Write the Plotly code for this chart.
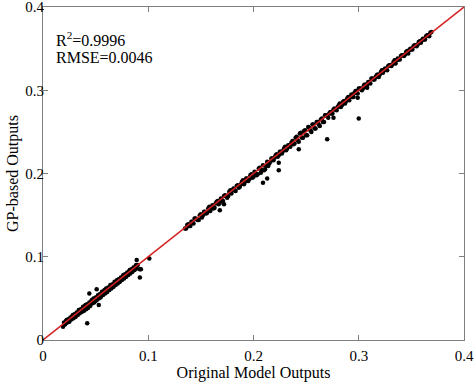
import plotly.graph_objects as go

# Cluster 1 (low outputs)
x_low = [0.019, 0.020, 0.021, 0.022, 0.023, 0.024, 0.025, 0.026, 0.027, 0.028,
         0.029, 0.030, 0.031, 0.032, 0.033, 0.034, 0.035, 0.036, 0.037, 0.038,
         0.039, 0.040, 0.041, 0.042, 0.042, 0.043, 0.044, 0.044, 0.045, 0.046,
         0.047, 0.048, 0.049, 0.050, 0.051, 0.051, 0.052, 0.053, 0.053, 0.054,
         0.055, 0.056, 0.057, 0.058, 0.059, 0.060, 0.061, 0.062, 0.063, 0.064,
         0.065, 0.066, 0.067, 0.068, 0.069, 0.070, 0.071, 0.072, 0.073, 0.074,
         0.075, 0.076, 0.077, 0.078, 0.079, 0.080, 0.081, 0.082, 0.083, 0.084,
         0.085, 0.086, 0.087, 0.088, 0.089, 0.089, 0.090, 0.092, 0.092, 0.093,
         0.101,
         0.0205, 0.0225, 0.0245, 0.0265, 0.0285, 0.0305, 0.0325, 0.0345, 0.0365, 0.0385,
         0.0405, 0.0425, 0.0445, 0.0465, 0.0485, 0.0505, 0.0525, 0.0545, 0.0565, 0.0585,
         0.0605, 0.0625, 0.0645, 0.0665, 0.0685, 0.0705, 0.0725, 0.0745, 0.0765, 0.0785,
         0.0805, 0.0825, 0.0845, 0.0865, 0.0885]
y_low = [0.016, 0.021, 0.019, 0.023, 0.021, 0.025, 0.022, 0.027, 0.025, 0.029,
         0.026, 0.031, 0.028, 0.033, 0.030, 0.036, 0.032, 0.037, 0.034, 0.040,
         0.035, 0.041, 0.037, 0.020, 0.043, 0.039, 0.056, 0.045, 0.041, 0.047,
         0.044, 0.050, 0.046, 0.051, 0.061, 0.048, 0.053, 0.042, 0.050, 0.055,
         0.052, 0.058, 0.054, 0.059, 0.056, 0.062, 0.058, 0.063, 0.060, 0.066,
         0.062, 0.067, 0.064, 0.070, 0.066, 0.071, 0.068, 0.073, 0.070, 0.075,
         0.072, 0.077, 0.074, 0.079, 0.076, 0.081, 0.078, 0.083, 0.080, 0.085,
         0.082, 0.087, 0.084, 0.089, 0.096, 0.086, 0.090, 0.085, 0.075, 0.085,
         0.098,
         0.0185, 0.0240, 0.0230, 0.0245, 0.0300, 0.0280, 0.0310, 0.0355, 0.0340, 0.0360,
         0.0420, 0.0385, 0.0410, 0.0480, 0.0450, 0.0475, 0.0540, 0.0510, 0.0540, 0.0600,
         0.0575, 0.0600, 0.0655, 0.0640, 0.0665, 0.0720, 0.0700, 0.0725, 0.0780, 0.0760,
         0.0785, 0.0840, 0.0820, 0.0845, 0.0900]

# Cluster 2 (high outputs)
x_high = [0.135, 0.137, 0.139, 0.141, 0.143, 0.145, 0.147, 0.149, 0.151, 0.153,
          0.155, 0.157, 0.159, 0.161, 0.163, 0.165, 0.167, 0.169, 0.171, 0.173,
          0.175, 0.177, 0.179, 0.181, 0.183, 0.185, 0.187, 0.189, 0.191, 0.193,
          0.195, 0.197, 0.199, 0.201, 0.203, 0.205, 0.207, 0.209, 0.211, 0.213,
          0.215, 0.217, 0.219, 0.221, 0.223, 0.225, 0.227, 0.229, 0.231, 0.233,
          0.235, 0.237, 0.239, 0.241, 0.243, 0.245, 0.247, 0.249, 0.251, 0.253,
          0.255, 0.257, 0.259, 0.261, 0.263, 0.265, 0.267, 0.269, 0.271, 0.273,
          0.275, 0.277, 0.279, 0.281, 0.283, 0.285, 0.287, 0.289, 0.291, 0.293,
          0.295, 0.297, 0.299, 0.301, 0.303, 0.305, 0.307, 0.309, 0.311, 0.313,
          0.315, 0.317, 0.319, 0.321, 0.323, 0.325, 0.327, 0.329, 0.331, 0.333,
          0.335, 0.337, 0.339, 0.341, 0.343, 0.345, 0.347, 0.349, 0.351, 0.353,
          0.355, 0.357, 0.359, 0.361, 0.363, 0.365, 0.367, 0.369,
          0.168, 0.172, 0.209, 0.213, 0.224, 0.224, 0.243, 0.270, 0.276, 0.300,
          0.299, 0.308,
          0.136, 0.138, 0.140, 0.142, 0.144, 0.146, 0.148, 0.150, 0.152, 0.154,
          0.156, 0.158, 0.160, 0.162, 0.164, 0.166, 0.168, 0.170, 0.172, 0.174,
          0.176, 0.178, 0.180, 0.182, 0.184, 0.186, 0.188, 0.190, 0.192, 0.194,
          0.196, 0.198, 0.200, 0.202, 0.204, 0.206, 0.208, 0.210, 0.212, 0.214,
          0.216, 0.218, 0.220, 0.222, 0.224, 0.226, 0.228, 0.230, 0.232, 0.234,
          0.236, 0.238, 0.240, 0.242, 0.244, 0.246, 0.248, 0.250, 0.252, 0.254,
          0.256, 0.258, 0.260, 0.262, 0.264, 0.266, 0.268, 0.270, 0.272, 0.274,
          0.276, 0.278, 0.280, 0.282, 0.284, 0.286, 0.288, 0.290, 0.292, 0.294,
          0.296, 0.298, 0.300, 0.302, 0.304, 0.306, 0.308, 0.310, 0.312, 0.314,
          0.316, 0.318, 0.320, 0.322, 0.324, 0.326, 0.328, 0.330, 0.332, 0.334,
          0.336, 0.338, 0.340, 0.342, 0.344, 0.346, 0.348, 0.350, 0.352, 0.354,
          0.356, 0.358, 0.360, 0.362, 0.364, 0.366, 0.368]
y_high = [0.134, 0.138, 0.137, 0.142, 0.140, 0.146, 0.144, 0.150, 0.147, 0.154,
          0.152, 0.158, 0.155, 0.162, 0.159, 0.166, 0.163, 0.170, 0.167, 0.174,
          0.171, 0.178, 0.176, 0.182, 0.179, 0.186, 0.184, 0.190, 0.187, 0.194,
          0.191, 0.198, 0.195, 0.202, 0.198, 0.206, 0.201, 0.210, 0.205, 0.214,
          0.212, 0.218, 0.216, 0.222, 0.220, 0.226, 0.224, 0.230, 0.228, 0.234,
          0.232, 0.239, 0.236, 0.244, 0.238, 0.249, 0.243, 0.252, 0.246, 0.255,
          0.250, 0.259, 0.254, 0.262, 0.257, 0.266, 0.262, 0.270, 0.267, 0.274,
          0.272, 0.278, 0.276, 0.282, 0.280, 0.286, 0.284, 0.290, 0.288, 0.295,
          0.292, 0.299, 0.296, 0.302, 0.300, 0.306, 0.304, 0.310, 0.308, 0.314,
          0.313, 0.318, 0.316, 0.322, 0.321, 0.326, 0.324, 0.330, 0.329, 0.334,
          0.332, 0.338, 0.337, 0.342, 0.341, 0.346, 0.344, 0.350, 0.349, 0.354,
          0.353, 0.358, 0.357, 0.362, 0.361, 0.366, 0.365, 0.370,
          0.156, 0.163, 0.189, 0.194, 0.204, 0.213, 0.229, 0.241, 0.267, 0.266,
          0.291, 0.303,
          0.134, 0.139, 0.137, 0.142, 0.146, 0.145, 0.144, 0.151, 0.150, 0.154,
          0.153, 0.160, 0.159, 0.158, 0.164, 0.167, 0.165, 0.168, 0.173, 0.173,
          0.173, 0.180, 0.180, 0.180, 0.185, 0.183, 0.187, 0.192, 0.190, 0.194,
          0.193, 0.199, 0.196, 0.200, 0.199, 0.207, 0.204, 0.204, 0.209, 0.209,
          0.214, 0.218, 0.219, 0.223, 0.222, 0.226, 0.227, 0.232, 0.230, 0.234,
          0.237, 0.235, 0.243, 0.240, 0.248, 0.243, 0.251, 0.246, 0.256, 0.252,
          0.259, 0.254, 0.262, 0.259, 0.265, 0.262, 0.270, 0.269, 0.272, 0.272,
          0.277, 0.277, 0.280, 0.284, 0.282, 0.287, 0.287, 0.292, 0.292, 0.292,
          0.297, 0.297, 0.302, 0.302, 0.302, 0.307, 0.307, 0.310, 0.314, 0.313,
          0.316, 0.319, 0.319, 0.324, 0.324, 0.325, 0.329, 0.330, 0.331, 0.336,
          0.336, 0.337, 0.341, 0.342, 0.343, 0.347, 0.348, 0.349, 0.353, 0.354,
          0.355, 0.359, 0.360, 0.361, 0.365, 0.366, 0.369]

line_x = [0.0, 0.4]
line_y = [0.0, 0.4]

x_ticks = [0, 0.1, 0.2, 0.3, 0.4]
x_tick_labels = ["0", "0.1", "0.2", "0.3", "0.4"]

font_family = "Liberation Serif, Times New Roman, serif"

fig = go.Figure()
fig.add_trace(go.Scatter(
    x=x_low + x_high, y=y_low + y_high, mode="markers",
    marker=dict(color="black", size=4.5, line=dict(width=0)),
    showlegend=False, hoverinfo="skip"))
fig.add_trace(go.Scatter(
    x=line_x, y=line_y, mode="lines",
    line=dict(color="#d42020", width=1.5),
    showlegend=False, hoverinfo="skip"))

axis_common = dict(
    range=[0, 0.4], tickvals=x_ticks, ticktext=x_tick_labels,
    showgrid=False, zeroline=False, showline=True, linecolor="#7f7f7f",
    linewidth=1, mirror="ticks", ticks="inside", ticklen=5, tickcolor="#7f7f7f",
    tickfont=dict(family=font_family, size=15, color="black"),
    automargin=False, ticklabeloverflow="allow",
)

fig.update_layout(
    width=474, height=382,
    margin=dict(l=43, r=10, t=7, b=42),
    paper_bgcolor="white", plot_bgcolor="white",
    font=dict(family=font_family, color="black"),
    xaxis=dict(**axis_common, ticklabelstandoff=2,
               title=dict(text="Original Model Outputs",
                          font=dict(family=font_family, size=16), standoff=3)),
    yaxis=dict(**axis_common, ticklabelstandoff=-5,
               title=dict(text="GP-based Outputs",
                          font=dict(family=font_family, size=16), standoff=2)),
    annotations=[
        dict(x=0.01, y=0.3617, xref="x", yref="y", xanchor="left", yanchor="middle",
             text="R<sup>2</sup>=0.9996", showarrow=False,
             font=dict(family=font_family, size=16, color="black")),
        dict(x=0.01, y=0.339, xref="x", yref="y", xanchor="left", yanchor="middle",
             text="RMSE=0.0046", showarrow=False,
             font=dict(family=font_family, size=16, color="black")),
    ],
)

fig.write_html("out.html", config={"displayModeBar": False},
               post_script="document.body.style.margin='0';")
